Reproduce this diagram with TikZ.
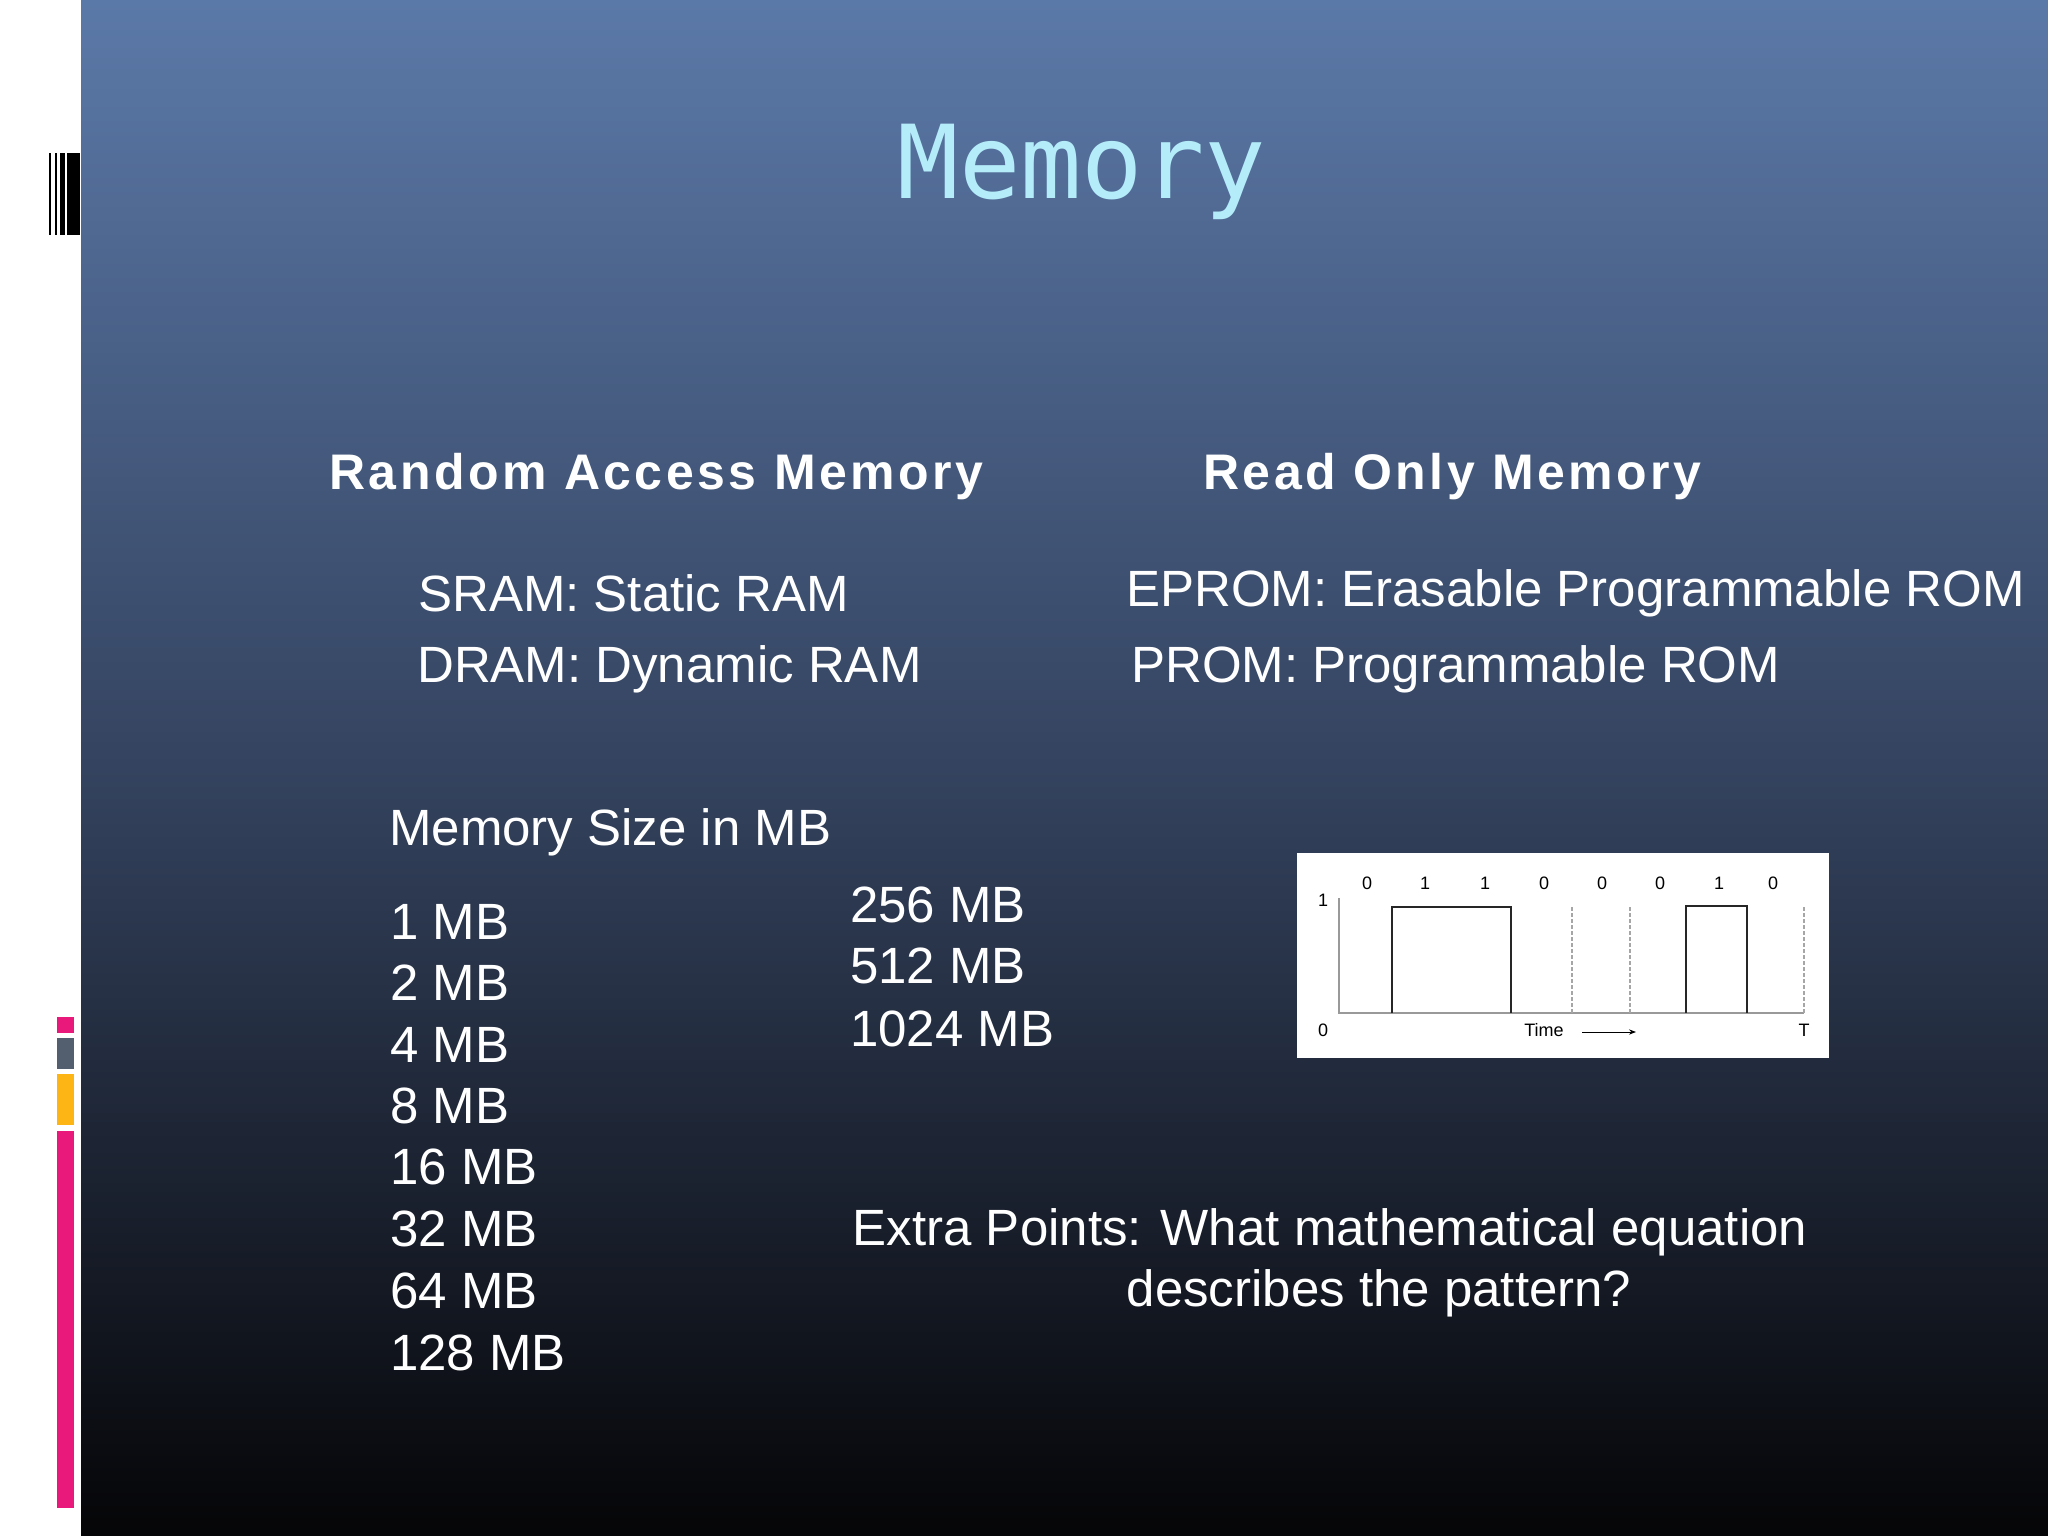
\documentclass[tikz,border=0pt]{standalone}
\usepackage{fontspec}
\setmainfont{Liberation Sans}
\newfontfamily\monof{DejaVu Sans Mono}
\newfontfamily\headf[LetterSpace=7]{Liberation Sans}
\usetikzlibrary{arrows.meta}
\definecolor{topc}{HTML}{5B79A8}
\definecolor{midc}{HTML}{34435F}
\definecolor{botc}{HTML}{050507}
\definecolor{titlec}{HTML}{B4ECFA}
\definecolor{pinkc}{HTML}{E8197A}
\definecolor{grayc}{HTML}{535E6E}
\definecolor{yelc}{HTML}{FDB515}
\tikzset{
 body/.style={text=white,anchor=west,inner sep=0pt,font=\fontsize{51}{54}\selectfont},
 head/.style={text=white,anchor=west,inner sep=0pt,font=\headf\bfseries\fontsize{50}{54}\selectfont},
 small/.style={inner sep=0pt,font=\fontsize{18}{19}\selectfont},
 pulse/.style={line width=2.5pt,black!85},
 dashline/.style={line width=2pt,gray!70,dash pattern=on 4pt off 2pt},
}
\begin{document}
\begin{tikzpicture}[x=1pt,y=-1pt]
\useasboundingbox (0,0) rectangle (2048,1536);
\fill[white] (0,0) rectangle (81,1536);
\shade[top color=topc,bottom color=botc,middle color=midc] (81,0) rectangle (2048,1536);
\foreach \a/\b in {49/51,55/57,60/65,67/80} \fill[black] (\a,153) rectangle (\b,235);
\fill[pinkc] (57,1017) rectangle (74,1033);
\fill[grayc] (57,1038) rectangle (74,1069);
\fill[yelc] (57,1074) rectangle (74,1125);
\fill[pinkc] (57,1131) rectangle (74,1508);
\node[text=titlec,inner sep=0pt,font=\monof\fontsize{102}{110}\selectfont] (title) at (1082,172) {Memory};
\node[head] (ram) at (329,477) {Random Access Memory};
\node[head] (rom) at (1203,477) {Read Only Memory};
\node[body] (sram) at (418,593) {SRAM: Static RAM};
\node[body] (dram) at (417,669) {DRAM: Dynamic RAM};
\node[body] (eprom) at (1126,593) {EPROM: Erasable Programmable ROM};
\node[body] (prom) at (1131,669) {PROM: Programmable ROM};
\node[body] (msize) at (389,832) {Memory Size in MB};
\foreach \t/\y [count=\i] in {1 MB/922,2 MB/983,4 MB/1045,8 MB/1106,16 MB/1167,32 MB/1229,64 MB/1291,128 MB/1353}
  \node[body] (s\i) at (390,\y) {\t};
\node[body] (s9) at (850,905) {256 MB};
\node[body] (s10) at (850,966) {512 MB};
\node[body] (s11) at (850,1029) {1024 MB};
\node[text=white,inner sep=0pt,font=\fontsize{51}{54}\selectfont] (ex1) at (1330,1232) {Extra Points: What mathematical equation};
\node[text=white,inner sep=0pt,font=\fontsize{51}{54}\selectfont] (ex2) at (1379,1293) {describes the pattern?};
\fill[white] (1297,853) rectangle (1829,1058);
\draw[line width=2.5pt,gray!80] (1339,898) -- (1339,1013) -- (1804,1013);
\draw[pulse] (1392,1013) -- (1392,907) -- (1511,907) -- (1511,1013);
\draw[pulse] (1686,1013) -- (1686,906) -- (1747,906) -- (1747,1013);
\foreach \x in {1572,1630,1804} \draw[dashline] (\x,907) -- (\x,1013);
\foreach \b/\x [count=\i] in {0/1367,1/1425,1/1485,0/1544,0/1602,0/1660,1/1719,0/1773}
  \node[small] (b\i) at (\x,883) {\b};
\node[small] (one) at (1323,900) {1};
\node[small] (zero) at (1323,1030) {0};
\node[small] (tt) at (1804,1030) {T};
\node[small] (time) at (1544,1030) {Time};
\coordinate (ta) at (1582,1032);
\coordinate (tb) at (1636,1032);
\draw[-{Stealth[length=7pt]},line width=1pt] (ta) -- (tb);
\end{tikzpicture}
\end{document}
